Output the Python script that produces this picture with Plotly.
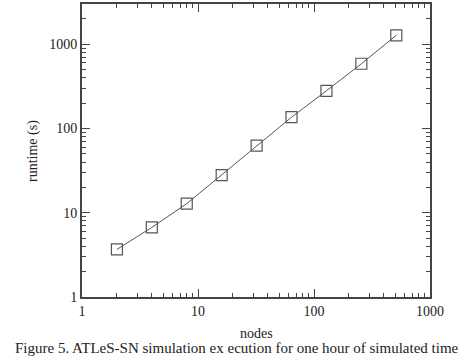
import plotly.graph_objects as go
import math

nodes = [2, 4, 8, 16, 32, 64, 128, 256, 512]
runtime = [3.67, 6.7, 12.8, 28.0, 62.6, 136, 280, 586, 1276]
x_ticks = [1, 10, 100, 1000]
y_ticks = [1, 10, 100, 1000]

FONT = "Liberation Serif"
AX = "#444444"

fig = go.Figure()
fig.add_trace(go.Scatter(
    x=nodes, y=runtime, mode="lines+markers",
    line=dict(color="#555555", width=1),
    marker=dict(symbol="square-open", size=11, color="#555555", line=dict(width=1.2, color="#555555")),
    showlegend=False,
))

axis_common = dict(
    type="log", showgrid=False, zeroline=False,
    showline=True, linecolor=AX, linewidth=2, mirror="ticks",
    ticks="inside", ticklen=8, tickwidth=1, tickcolor=AX,
    tickfont=dict(family=FONT, size=14, color="#222222"),
    minor=dict(ticks="inside", ticklen=4, tickwidth=1, tickcolor=AX, dtick="D1", showgrid=False),
)

fig.update_xaxes(range=[0, 3], tickvals=x_ticks, ticktext=[str(v) for v in x_ticks], **axis_common)
fig.update_yaxes(range=[0, math.log10(3000)], tickvals=y_ticks, ticktext=[str(v) for v in y_ticks], **axis_common)

fig.update_layout(
    width=474, height=356,
    margin=dict(l=82, r=44, t=2, b=59),
    paper_bgcolor="white", plot_bgcolor="white",
    font=dict(family=FONT, color="#222222"),
    annotations=[
        dict(text="nodes", xref="paper", yref="paper", x=0.5, y=-(334 - 297) / 295,
             showarrow=False, xanchor="center", yanchor="middle", font=dict(family=FONT, size=14)),
        dict(text="runtime (s)", xref="paper", yref="paper", x=-(82 - 33) / 348, y=(297 - 150) / 295,
             showarrow=False, xanchor="center", yanchor="middle", textangle=-90, font=dict(family=FONT, size=14)),
        dict(text="Figure 5. ATLeS-SN simulation ex ecution for one hour of simulated time",
             xref="paper", yref="paper", x=(237 - 82) / 348, y=-(348 - 297) / 295,
             showarrow=False, xanchor="center", yanchor="middle", font=dict(family=FONT, size=15)),
    ],
)

fig.write_html("out.html")
